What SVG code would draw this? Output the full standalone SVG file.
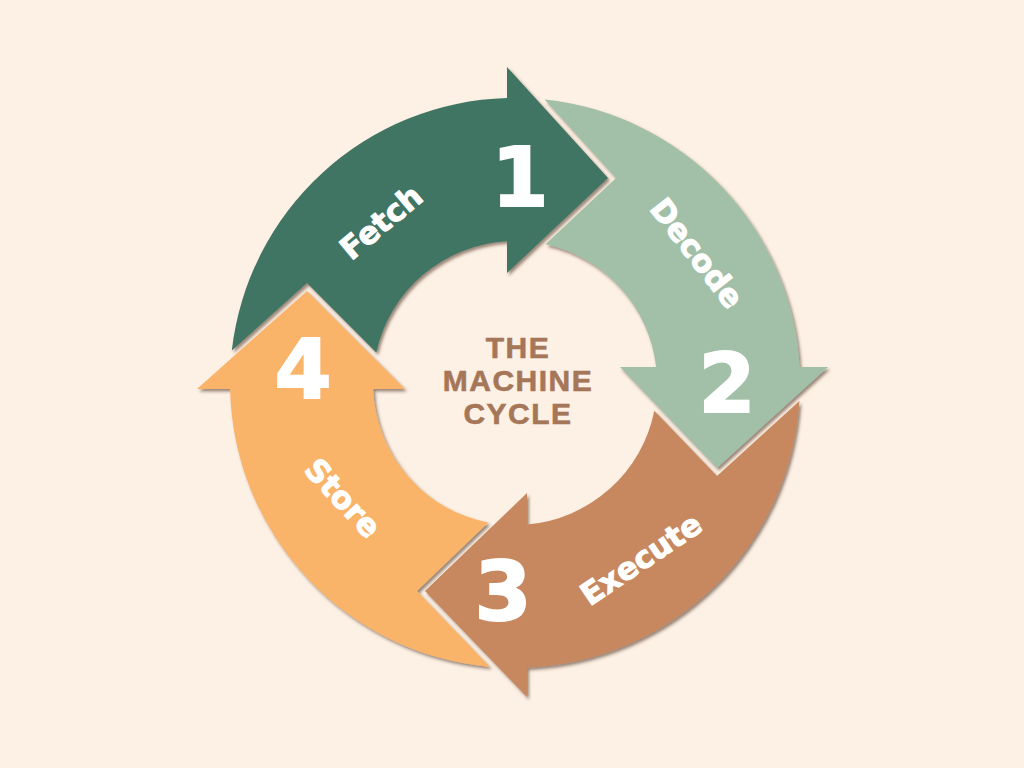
<svg xmlns="http://www.w3.org/2000/svg" width="1024" height="768" viewBox="0 0 1024 768">
  <defs>
    <filter id="sh" x="-10%" y="-10%" width="120%" height="120%">
      <feDropShadow dx="2" dy="2.5" stdDeviation="1.6" flood-color="#4a3020" flood-opacity="0.55"/>
    </filter>
    <style>
      .seg { filter: url(#sh); }
      .num { font-family: "DejaVu Sans", "Liberation Sans", sans-serif; font-weight: bold; font-size: 82px; fill: #ffffff; stroke: #ffffff; stroke-width: 2px; text-anchor: middle; }
      .lbl { font-family: "DejaVu Sans", "Liberation Sans", sans-serif; font-weight: bold; font-size: 31px; fill: #ffffff; stroke: #ffffff; stroke-width: 1px; text-anchor: middle; dominant-baseline: central; }
      .ttl { font-family: "Liberation Sans", Arial, sans-serif; font-weight: bold; font-size: 30px; fill: #A57658; stroke: #A57658; stroke-width: 0.6px; text-anchor: middle; letter-spacing: 1.5px; }
    </style>
  </defs>
  <rect width="1024" height="768" fill="#FDF0E4"/>
  <g id="connectors"/>
  <g id="fetch">
    <path class="seg" fill="#417563" d="M 231.8,350.5 A 285 285 0 0 1 507,98.1 L 507,67 L 608,178 L 507,273 L 507,241.2 A 142 142 0 0 0 376.3,352.5 L 307,283 Z"/>
    <text class="num" x="520" y="206">1</text>
    <text class="lbl" transform="translate(381,222) rotate(-40)">Fetch</text>
  </g>
  <g id="decode">
    <path class="seg" fill="#A2C0A8" d="M 544.6,99.5 A 285 285 0 0 1 799.6,367 L 828,367 L 717,468 L 620,367 L 656.1,367 A 142 142 0 0 0 545.5,244.3 L 616,178 Z"/>
    <text class="num" x="727" y="412">2</text>
    <text class="lbl" transform="translate(697,253) rotate(52)">Decode</text>
  </g>
  <g id="execute">
    <path class="seg" fill="#C7885F" d="M 799.4,401 A 285 285 0 0 1 527,667.7 L 527,697 L 425,591 L 527,493 L 527,524.5 A 142 142 0 0 0 654.3,410.7 L 717,476 Z"/>
    <text class="num" x="503" y="620">3</text>
    <text class="lbl" transform="translate(641,559) rotate(-34)">Execute</text>
  </g>
  <g id="store">
    <path class="seg" fill="#F9B46A" d="M 490,666.9 A 285 285 0 0 1 230.1,389 L 197,389 L 307,291 L 405,389 L 373.1,389 A 142 142 0 0 0 488.3,522.5 L 417,591 Z"/>
    <text class="num" x="303" y="398">4</text>
    <text class="lbl" transform="translate(343,498) rotate(47)">Store</text>
  </g>
  <g id="title">
    <text class="ttl" x="518" y="358">THE</text>
    <text class="ttl" x="518" y="391">MACHINE</text>
    <text class="ttl" x="518" y="424">CYCLE</text>
  </g>
</svg>
